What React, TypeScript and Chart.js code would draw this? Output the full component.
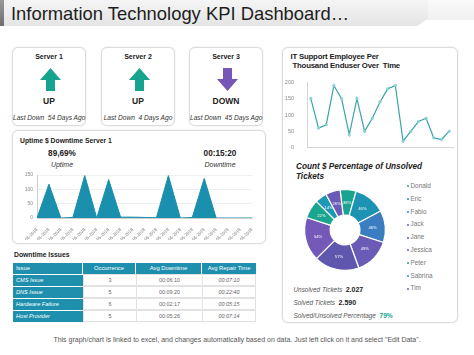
import React, { useEffect, useRef } from "react";
import { Chart, registerables } from "chart.js";

Chart.register(...registerables);
Chart.defaults.font.family = "'Liberation Sans', Arial, sans-serif";

const serverNames = ["Server 1", "Server 2", "Server 3"];
const serverStatus = ["UP", "UP", "DOWN"];
const lastDownDays = [54, 4, 45];

const uptimeDates = [
  "01-05-2018", "02-05-2018", "03-05-2018", "04-05-2018", "05-05-2018",
  "06-05-2018", "07-05-2018", "08-05-2018", "09-05-2018", "10-05-2018",
  "11-05-2018", "12-05-2018", "13-05-2018", "14-05-2018", "15-05-2018",
  "16-05-2018", "17-05-2018", "18-05-2018", "19-05-2018",
];
const uptimeValues = [0, 118, 0, 2, 148, 0, 134, 3, 3, 2, 1, 148, 0, 2, 138, 0, 0, 0, 0];
const uptimeTicks = [0, 50, 100, 150];

const supportPeriods = [
  "P1", "P2", "P3", "P4", "P5", "P6", "P7", "P8", "P9", "P10",
  "P11", "P12", "P13", "P14", "P15", "P16", "P17", "P18", "P19",
];
const supportValues = [150, 60, 70, 190, 150, 40, 150, 50, 90, 140, 180, 190, 20, 50, 80, 90, 30, 25, 50];

const ticketNames = ["Donald", "Eric", "Fabio", "Jack", "Jane", "Jessica", "Peter", "Sabrina", "Tim"];
const ticketCounts = [130, 259, 259, 293, 366, 355, 152, 96, 118];
const ticketPercents = ["38%", "46%", "46%", "49%", "57%", "54%", "22%", "14%", "26%"];
const ticketColors = ["#1ba391", "#1d93b3", "#3a7ec1", "#6a5bb6", "#5f56ae", "#7459b8", "#1aa590", "#1c97b4", "#6c5bb6"];

const issueHeaders = ["Issue", "Occurrence", "Avg Downtime", "Avg Repair Time"];
const issueNames = ["CMS Issue", "DNS Issue", "Hardware Failure", "Host Provider"];
const issueOccurrence = [3, 5, 6, 5];
const issueAvgDowntime = ["00:06:10", "00:09:20", "00:02:17", "00:05:26"];
const issueAvgRepair = ["00:07:10", "00:22:40", "00:05:15", "00:07:14"];

const TEAL = "#17a48f";
const PURPLE = "#7657b7";
const HEAD = "#1f8fae";
const FONT = "'Liberation Sans', Arial, sans-serif";

const card: React.CSSProperties = {
  position: "absolute",
  background: "#fff",
  border: "1px solid #dcdcdc",
  borderRadius: 6,
  boxShadow: "0 0 2px rgba(0,0,0,0.12)",
  boxSizing: "border-box",
};

function Arrow({ up }: { up: boolean }) {
  const pts = up
    ? "0,12 10.5,0 21,12 15,12 15,23 6,23 6,12"
    : "6,0 15,0 15,11 21,11 10.5,23 0,11 6,11";
  return (
    <svg width={21} height={23} style={{ display: "block" }}>
      <polygon points={pts} fill={up ? TEAL : PURPLE} />
    </svg>
  );
}

const donutLabels = {
  id: "donutLabels",
  afterDatasetsDraw(chart: any) {
    const ctx = chart.ctx;
    const meta = chart.getDatasetMeta(0);
    ctx.save();
    ctx.fillStyle = "#fff";
    ctx.font = `4.2px ${FONT}`;
    ctx.textAlign = "center";
    ctx.textBaseline = "middle";
    meta.data.forEach((arc: any, i: number) => {
      const p = arc.tooltipPosition();
      ctx.fillText(ticketPercents[i], p.x, p.y);
    });
    ctx.restore();
  },
};

const colX = [13, 83, 136, 202];
const colW = [70, 53, 66, 54];

export default function App() {
  const areaRef = useRef<HTMLCanvasElement>(null);
  const lineRef = useRef<HTMLCanvasElement>(null);
  const donutRef = useRef<HTMLCanvasElement>(null);

  useEffect(() => {
    const area = new Chart(areaRef.current!, {
      type: "line",
      data: {
        labels: uptimeDates,
        datasets: [
          {
            data: uptimeValues,
            borderColor: "#1a8fae",
            backgroundColor: "#1a8fae",
            borderWidth: 1,
            fill: "origin",
            pointRadius: 0,
            tension: 0,
          },
        ],
      },
      options: {
        responsive: false,
        animation: false,
        layout: { padding: { top: 4, right: 10, left: 0, bottom: 0 } },
        plugins: { legend: { display: false }, tooltip: { enabled: false } },
        scales: {
          x: {
            grid: { display: false },
            border: { color: "#cfcfcf" },
            ticks: { font: { size: 4.4 }, color: "#777", maxRotation: 45, minRotation: 45, autoSkip: false, padding: 1 },
            afterFit: (s: any) => { s.height = 22; },
          },
          y: {
            min: 0,
            max: 150,
            afterBuildTicks: (s: any) => { s.ticks = uptimeTicks.map((v) => ({ value: v })); },
            ticks: { font: { size: 5 }, color: "#888", padding: 4 },
            grid: { color: "#efefef", drawTicks: false },
            border: { color: "#cfcfcf" },
            afterFit: (s: any) => { s.width = 27; },
          },
        },
      },
    });

    const line = new Chart(lineRef.current!, {
      type: "line",
      data: {
        labels: supportPeriods,
        datasets: [
          {
            data: supportValues,
            borderColor: "#3aa3a8",
            borderWidth: 1.2,
            pointRadius: 1.3,
            pointBackgroundColor: "#8fd3d6",
            pointBorderColor: "#7cc9cc",
            pointBorderWidth: 0.5,
            tension: 0,
            fill: false,
          },
        ],
      },
      options: {
        responsive: false,
        animation: false,
        layout: { padding: { top: 4, right: 7, left: 0, bottom: 0 } },
        plugins: { legend: { display: false }, tooltip: { enabled: false } },
        scales: {
          x: {
            offset: true,
            grid: { display: false },
            border: { color: "#d6d6d6" },
            ticks: { display: false },
            afterFit: (s: any) => { s.height = 3; },
          },
          y: {
            min: 0,
            max: 200,
            ticks: { stepSize: 50, font: { size: 5.5 }, color: "#888", padding: 5 },
            grid: { display: false },
            border: { color: "#d6d6d6" },
            afterFit: (s: any) => { s.width = 22; },
          },
        },
      },
    });

    const donut = new Chart(donutRef.current!, {
      type: "doughnut",
      data: {
        labels: ticketNames,
        datasets: [
          {
            data: ticketCounts,
            backgroundColor: ticketColors,
            borderColor: "#fff",
            borderWidth: 1.2,
          },
        ],
      },
      options: {
        responsive: false,
        animation: false,
        rotation: -7,
        cutout: "37%",
        layout: { padding: 3 },
        plugins: { legend: { display: false }, tooltip: { enabled: false } },
      },
      plugins: [donutLabels],
    });

    return () => {
      area.destroy();
      line.destroy();
      donut.destroy();
    };
  }, []);

  const serverLeft = [12, 101, 189];

  const cellBase: React.CSSProperties = {
    position: "absolute",
    boxSizing: "border-box",
    display: "flex",
    alignItems: "center",
    whiteSpace: "nowrap",
    overflow: "hidden",
  };

  const rowTop = (i: number) => 273.5 + i * 12;
  const rowValues = (i: number) => [String(issueOccurrence[i]), issueAvgDowntime[i], issueAvgRepair[i]];

  return (
    <div style={{ position: "absolute", left: 0, top: 0, width: 474, height: 355, background: "#fff", overflow: "hidden", fontFamily: FONT }}>
      {/* Title bar */}
      <div style={{ position: "absolute", left: 0, top: 0, width: 474, height: 20, background: "linear-gradient(#fafafa,#f0f0f0)" }} />
      <div
        style={{
          position: "absolute", left: 0, top: 0, width: 428, height: 26,
          background: "linear-gradient(#f5f5f5,#e4e4e4)",
          clipPath: "polygon(0 0, 100% 0, 100% 70%, 97.5% 100%, 0 100%)",
        }}
      />
      <div style={{ position: "absolute", left: 0, top: 0, width: 4, height: 26, background: "linear-gradient(#9a9a9a,#6e6e6e)" }} />
      <div style={{ position: "absolute", left: 11, top: 0, height: 27, lineHeight: "27px", fontSize: 18.4, color: "#1e1e1e", whiteSpace: "nowrap" }}>
        Information Technology KPI Dashboard…
      </div>

      {/* Server cards */}
      {serverNames.map((n, i) => (
        <div key={n} style={{ ...card, left: serverLeft[i], top: 47, width: 74, height: 79 }}>
          <div style={{ position: "absolute", top: 5, width: "100%", textAlign: "center", fontSize: 7, fontWeight: "bold", color: "#222" }}>{n}</div>
          <div style={{ position: "absolute", top: 19.5, left: 26.5 }}>
            <Arrow up={serverStatus[i] === "UP"} />
          </div>
          <div style={{ position: "absolute", top: 48, width: "100%", textAlign: "center", fontSize: 8.5, fontWeight: "bold", color: "#222" }}>{serverStatus[i]}</div>
          <div style={{ position: "absolute", top: 65.5, width: "100%", textAlign: "center", fontSize: 6.6, fontStyle: "italic", color: "#333", whiteSpace: "nowrap" }}>
            Last Down&nbsp; {lastDownDays[i]} Days Ago
          </div>
        </div>
      ))}

      {/* Uptime card */}
      <div style={{ ...card, left: 12, top: 130, width: 254, height: 114 }}>
        <div style={{ position: "absolute", left: 7, top: 5.5, fontSize: 6.8, fontWeight: "bold", color: "#222", whiteSpace: "nowrap" }}>Uptime $ Downtime Server 1</div>
        <div style={{ position: "absolute", left: 24, width: 50, top: 17.5, textAlign: "center", fontSize: 8.2, fontWeight: "bold", color: "#222" }}>89,69%</div>
        <div style={{ position: "absolute", left: 24, width: 50, top: 29.5, textAlign: "center", fontSize: 7, fontStyle: "italic", color: "#333" }}>Uptime</div>
        <div style={{ position: "absolute", left: 182, width: 50, top: 17.5, textAlign: "center", fontSize: 8.2, fontWeight: "bold", color: "#222" }}>00:15:20</div>
        <div style={{ position: "absolute", left: 182, width: 50, top: 29.5, textAlign: "center", fontSize: 7, fontStyle: "italic", color: "#333" }}>Downtime</div>
      </div>
      <canvas ref={areaRef} width={252} height={72} style={{ position: "absolute", left: 10, top: 168 }} />

      {/* Downtime issues */}
      <div style={{ position: "absolute", left: 14, top: 250.5, fontSize: 6.8, fontWeight: "bold", color: "#222" }}>Downtime Issues</div>
      {issueHeaders.map((h, c) => (
        <div
          key={h}
          style={{
            ...cellBase,
            left: colX[c], top: 262.5, width: colW[c], height: 11,
            background: HEAD, color: "#fff", fontSize: 5.8,
            justifyContent: c === 0 ? "flex-start" : "center",
            paddingLeft: c === 0 ? 3 : 0,
            borderRight: c < 3 ? "1px solid #fff" : "none",
          }}
        >
          {h}
        </div>
      ))}
      {issueNames.map((n, i) => (
        <React.Fragment key={n}>
          <div
            style={{
              ...cellBase,
              left: colX[0], top: rowTop(i), width: colW[0], height: 12,
              background: HEAD, color: "#fff", fontSize: 5.6, fontStyle: "italic",
              paddingLeft: 3, borderTop: "1px solid #fff",
            }}
          >
            {n}
          </div>
          {rowValues(i).map((v, c) => (
            <div
              key={c}
              style={{
                ...cellBase,
                left: colX[c + 1], top: rowTop(i), width: colW[c + 1] + (c < 2 ? 1 : 0), height: 12.5,
                justifyContent: "center",
                color: "#666", fontSize: 5.4, fontStyle: c === 2 ? "italic" : "normal",
                border: "1px solid #e2e2e2",
              }}
            >
              {v}
            </div>
          ))}
        </React.Fragment>
      ))}

      {/* Right card */}
      <div style={{ ...card, left: 282, top: 47, width: 176, height: 276 }}>
        <div style={{ position: "absolute", left: 7.5, top: 4, fontSize: 7.8, fontWeight: "bold", color: "#222", lineHeight: "9px", whiteSpace: "nowrap", letterSpacing: -0.2 }}>
          IT Support Employee Per<br />&nbsp;Thousand Enduser Over&nbsp; Time
        </div>
        <div style={{ position: "absolute", left: 13, top: 114, fontSize: 8.2, fontWeight: "bold", fontStyle: "italic", color: "#222", lineHeight: "9.5px", whiteSpace: "nowrap" }}>
          Count $ Percentage of Unsolved<br />Tickets
        </div>
        {ticketNames.map((n, i) => (
          <div key={n} style={{ position: "absolute", left: 124, top: 134 + i * 12.8, fontSize: 6.4, color: "#777", whiteSpace: "nowrap" }}>
            <span style={{ display: "inline-block", width: 2, height: 2, borderRadius: 1, background: ticketColors[i], marginRight: 1.5, verticalAlign: "middle" }} />
            {n}
          </div>
        ))}
        <div style={{ position: "absolute", left: 10.5, top: 237.5, fontSize: 6.4, color: "#555", whiteSpace: "nowrap" }}>
          <i>Unsolved Tickets</i>&nbsp; <b style={{ color: "#222", fontSize: 7 }}>2.027</b>
        </div>
        <div style={{ position: "absolute", left: 10.5, top: 250.5, fontSize: 6.4, color: "#555", whiteSpace: "nowrap" }}>
          <i>Solved Tickets</i>&nbsp; <b style={{ color: "#222", fontSize: 7 }}>2.590</b>
        </div>
        <div style={{ position: "absolute", left: 10.5, top: 264, fontSize: 6.4, color: "#555", whiteSpace: "nowrap" }}>
          <i>Solved/Unsolved Percentage</i>&nbsp; <b style={{ color: TEAL, fontSize: 6.6 }}>79%</b>
        </div>
      </div>
      <canvas ref={lineRef} width={175} height={82} style={{ position: "absolute", left: 285, top: 74 }} />
      <canvas ref={donutRef} width={88} height={88} style={{ position: "absolute", left: 301, top: 186 }} />

      {/* Footer */}
      <div style={{ position: "absolute", left: 0, top: 335.5, width: 474, textAlign: "center", fontSize: 7, color: "#555", whiteSpace: "nowrap" }}>
        This graph/chart is linked to excel, and changes automatically based on data. Just left click on it and select "Edit Data".
      </div>
    </div>
  );
}
